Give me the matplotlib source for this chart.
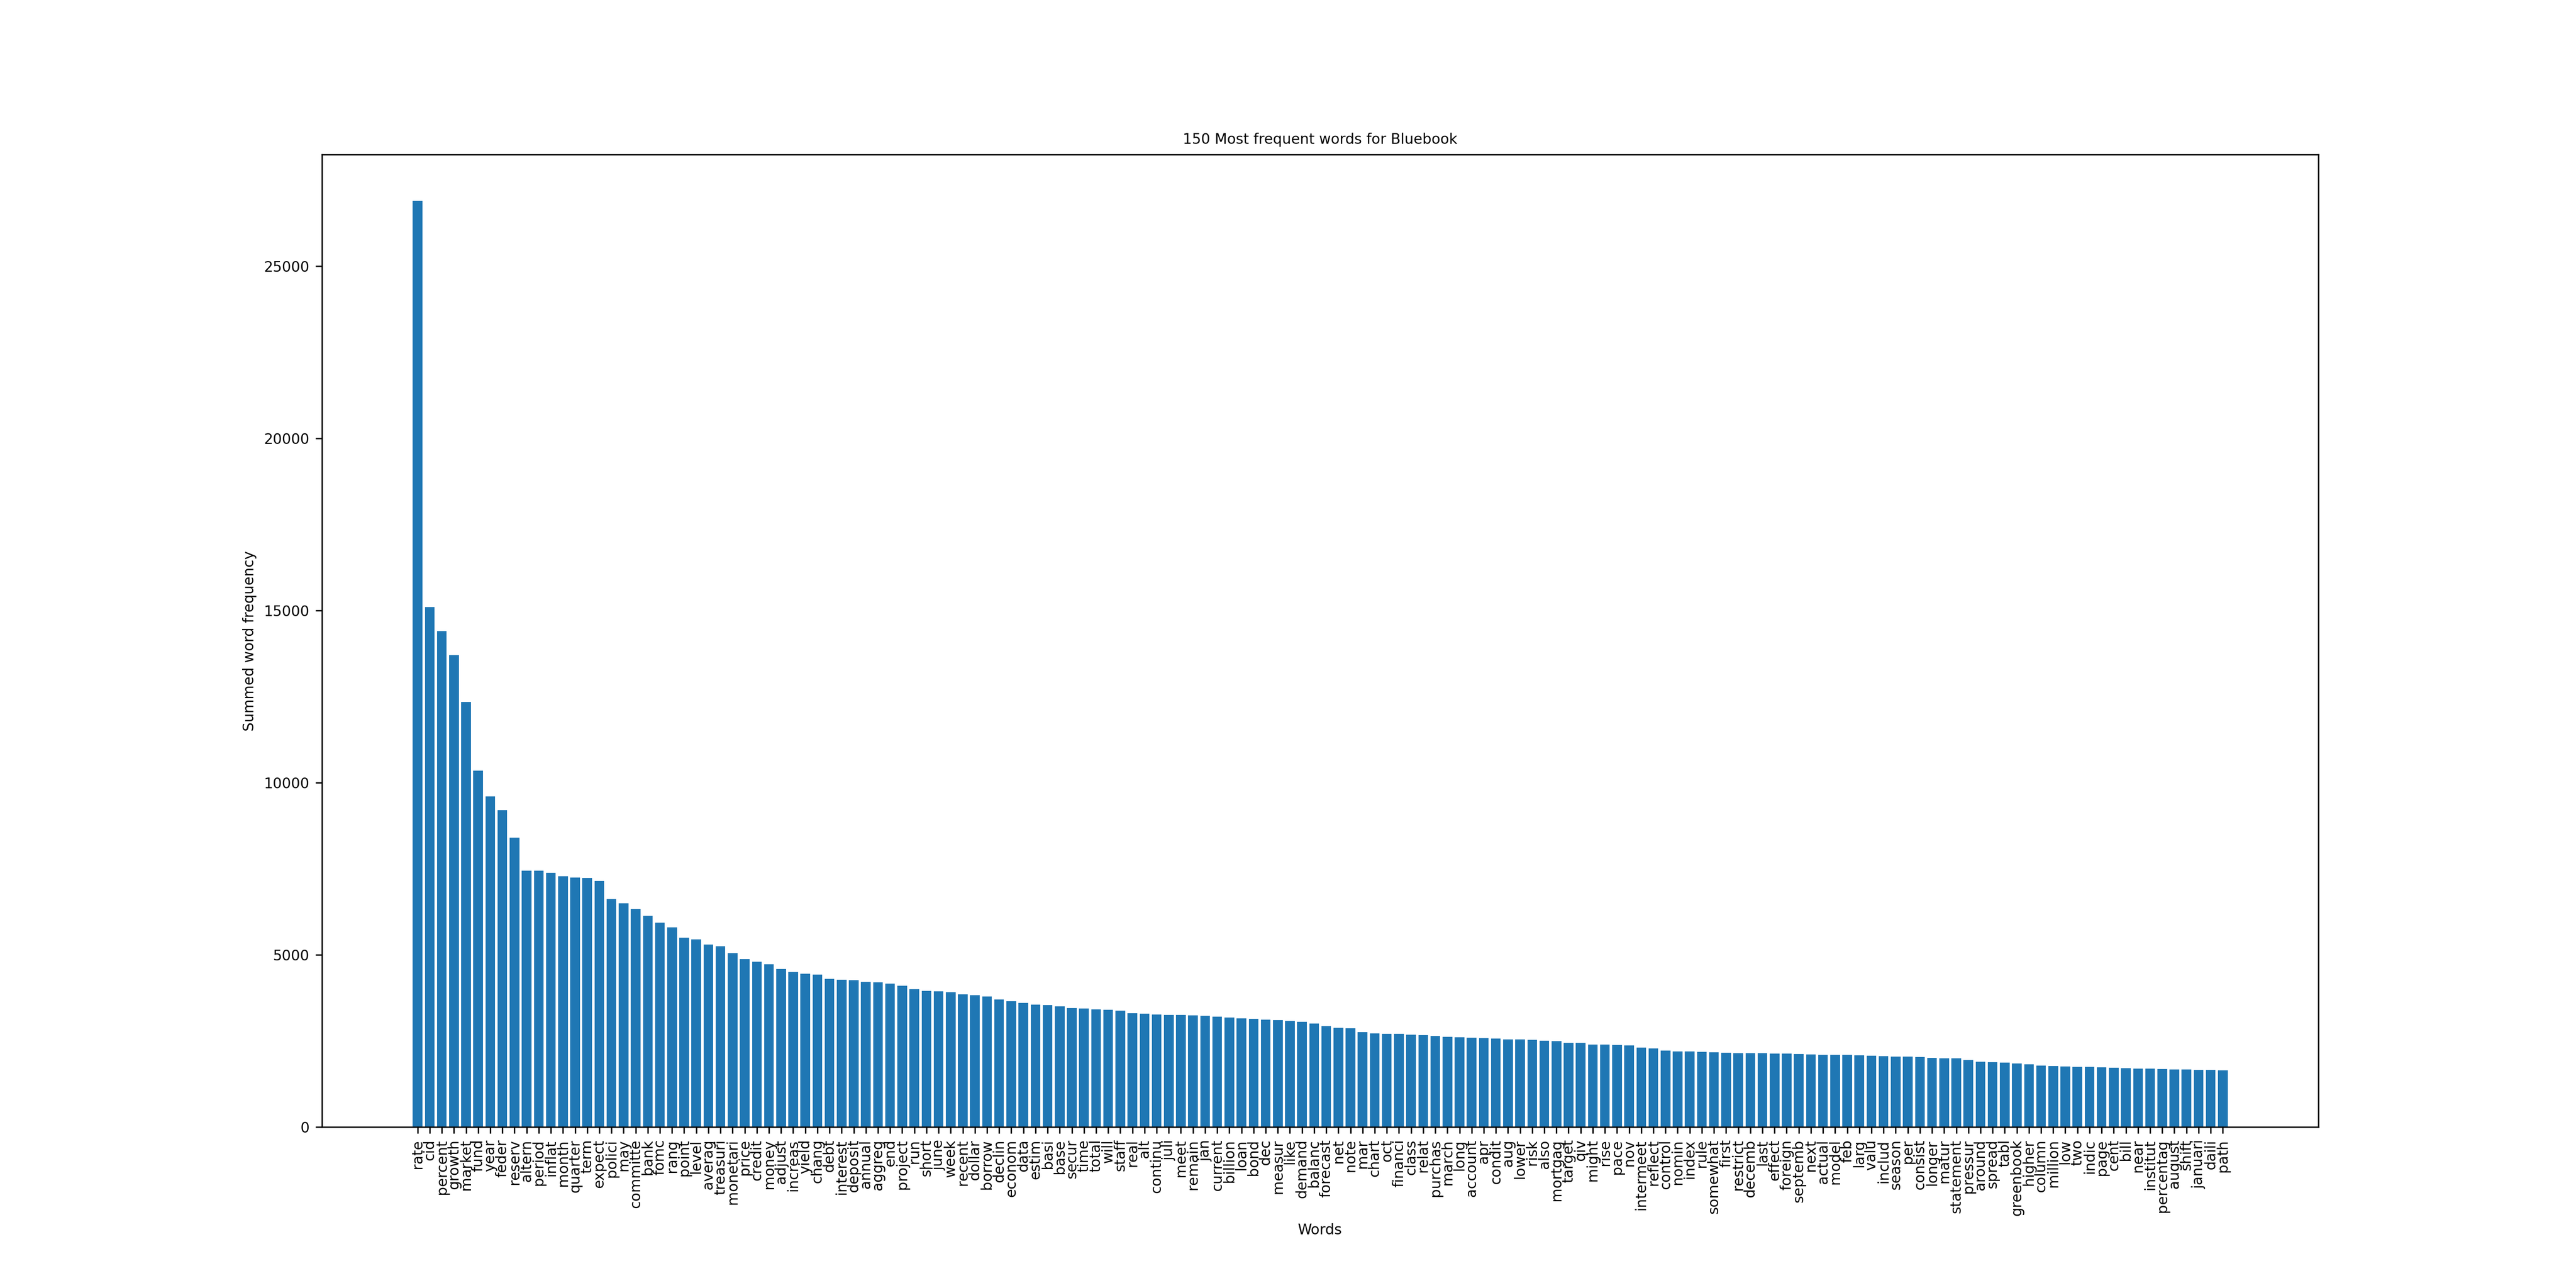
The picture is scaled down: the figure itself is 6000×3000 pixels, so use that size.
import matplotlib
matplotlib.use("Agg")
import matplotlib.pyplot as plt

words = ["rate", "cid", "percent", "growth", "market", "fund", "year", "feder", "reserv", "altern",
         "period", "inflat", "month", "quarter", "term", "expect", "polici", "may", "committe", "bank",
         "fomc", "rang", "point", "level", "averag", "treasuri", "monetari", "price", "credit", "money",
         "adjust", "increas", "yield", "chang", "debt", "interest", "deposit", "annual", "aggreg", "end",
         "project", "run", "short", "june", "week", "recent", "dollar", "borrow", "declin", "econom",
         "data", "estim", "basi", "base", "secur", "time", "total", "will", "staff", "real",
         "alt", "continu", "juli", "meet", "remain", "jan", "current", "billion", "loan", "bond",
         "dec", "measur", "like", "demand", "balanc", "forecast", "net", "note", "mar", "chart",
         "oct", "financi", "class", "relat", "purchas", "march", "long", "account", "apr", "condit",
         "aug", "lower", "risk", "also", "mortgag", "target", "qiv", "might", "rise", "pace",
         "nov", "intermeet", "reflect", "control", "nomin", "index", "rule", "somewhat", "first", "restrict",
         "decemb", "last", "effect", "foreign", "septemb", "next", "actual", "model", "feb", "larg",
         "valu", "includ", "season", "per", "consist", "longer", "matur", "statement", "pressur", "around",
         "spread", "tabl", "greenbook", "higher", "column", "million", "low", "two", "indic", "page",
         "cent", "bill", "near", "institut", "percentag", "august", "shift", "januari", "daili", "path"]

counts = [26900, 15100, 14400, 13700, 12350, 10350, 9600, 9200, 8400, 7450,
          7450, 7380, 7280, 7250, 7230, 7150, 6620, 6500, 6340, 6130,
          5930, 5800, 5500, 5450, 5300, 5250, 5050, 4870, 4800, 4730,
          4590, 4500, 4450, 4430, 4300, 4280, 4260, 4220, 4200, 4170,
          4100, 4000, 3950, 3940, 3920, 3850, 3830, 3790, 3700, 3650,
          3600, 3550, 3540, 3510, 3450, 3440, 3420, 3400, 3380, 3300,
          3290, 3270, 3260, 3250, 3240, 3230, 3200, 3180, 3150, 3140,
          3120, 3100, 3080, 3050, 3000, 2930, 2880, 2870, 2760, 2720,
          2710, 2700, 2680, 2670, 2640, 2620, 2610, 2590, 2580, 2570,
          2550, 2540, 2530, 2510, 2490, 2450, 2440, 2400, 2390, 2380,
          2370, 2310, 2280, 2220, 2200, 2190, 2180, 2170, 2160, 2150,
          2140, 2140, 2130, 2130, 2120, 2110, 2100, 2100, 2090, 2080,
          2070, 2060, 2050, 2040, 2030, 2010, 2000, 1990, 1950, 1890,
          1880, 1870, 1850, 1820, 1780, 1770, 1760, 1750, 1740, 1730,
          1720, 1710, 1700, 1690, 1680, 1670, 1665, 1660, 1655, 1650]

fig, ax = plt.subplots(figsize=(20, 10))
fig.subplots_adjust(bottom=0.125, top=0.88)
ax.bar(words, counts)
ax.set_xticks(range(len(words)))
ax.set_xticklabels(words, rotation=90, fontsize=8)
ax.tick_params(axis="y", labelsize=8)
ax.set_xlabel("Words", fontsize=8)
ax.set_ylabel("Summed word frequency", fontsize=8)
ax.set_title("150 Most frequent words for Bluebook", fontsize=8)
fig.savefig("out.png", dpi=300)
